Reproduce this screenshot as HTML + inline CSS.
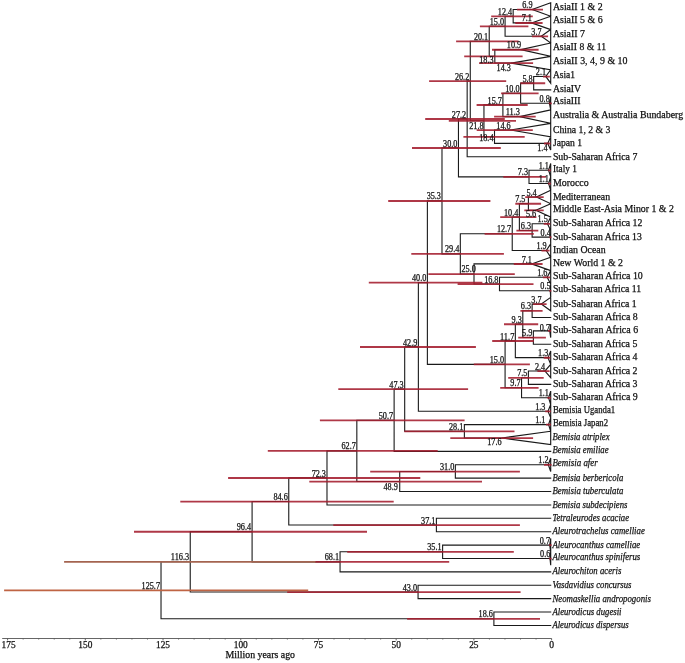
<!DOCTYPE html>
<html><head><meta charset="utf-8"><title>Phylogeny</title>
<style>
html,body{margin:0;padding:0;background:#fff}
svg{display:block}
text{font-family:"Liberation Serif",serif;fill:#111;stroke:#111;stroke-width:0.25px}
.n{font-size:9.6px}
.t{font-size:9.8px}
.i{font-style:italic;font-size:10.6px}
.a{font-size:9.5px}
.m{font-size:9.4px}
</style></head><body>
<svg width="685" height="663" viewBox="0 0 685 663">
<rect width="685" height="663" fill="#fff"/>
<path d="M513.16 9.5L513.16 22.89M513.16 9.5L532.19 9.5M513.16 22.89L531.62 22.89M505.08 16.2L505.08 36.28M505.08 16.2L513.16 16.2M505.08 36.28L541.24 36.28M494.82 49.67L494.82 63.06M494.82 49.67L520.87 49.67M494.82 63.06L511.26 63.06M489.23 26.24L489.23 56.37M489.23 26.24L505.08 26.24M489.23 56.37L494.82 56.37M533.67 76.45L533.67 89.84M533.67 76.45L545.76 76.45M533.67 89.84L550.7 89.84M520.62 83.15L520.62 103.23M520.62 83.15L533.67 83.15M520.62 103.23L549.44 103.23M502.9 93.19L502.9 116.62M502.9 93.19L520.62 93.19M502.9 116.62L519.74 116.62M494.51 130.01L494.51 143.4M494.51 130.01L510.41 130.01M494.51 143.4L547.74 143.4M483.95 104.9L483.95 136.7M483.95 104.9L502.9 104.9M483.95 136.7L494.51 136.7M470.27 41.3L470.27 120.8M470.27 41.3L489.23 41.3M470.27 120.8L483.95 120.8M467.16 81.05L467.16 156.79M467.16 81.05L470.27 81.05M467.16 156.79L550.7 156.79M529.01 170.18L529.01 183.57M529.01 170.18L548.59 170.18M529.01 183.57L548.59 183.57M458.46 118.92L458.46 176.88M458.46 118.92L467.16 118.92M458.46 176.88L529.01 176.88M528.39 196.96L528.39 210.35M528.39 196.96L536.43 196.96M528.39 210.35L535.86 210.35M532.12 223.74L532.12 237.13M532.12 223.74L547.46 223.74M532.12 237.13L550.57 237.13M519.38 203.66L519.38 230.44M519.38 203.66L528.39 203.66M519.38 230.44L532.12 230.44M512.23 217.05L512.23 250.52M512.23 217.05L519.38 217.05M512.23 250.52L546.33 250.52M499.49 277.3L499.49 290.69M499.49 277.3L547.18 277.3M499.49 290.69L550.29 290.69M474 263.91L474 284M474 263.91L531.62 263.91M474 284L499.49 284M460.32 233.78L460.32 273.95M460.32 233.78L512.23 233.78M460.32 273.95L474 273.95M441.99 147.9L441.99 253.87M441.99 147.9L458.46 147.9M441.99 253.87L460.32 253.87M532.12 304.08L532.12 317.47M532.12 304.08L541.24 304.08M532.12 317.47L550.7 317.47M533.36 330.86L533.36 344.25M533.36 330.86L549.72 330.86M533.36 344.25L550.7 344.25M522.8 310.78L522.8 337.56M522.8 310.78L532.12 310.78M522.8 337.56L533.36 337.56M515.34 324.17L515.34 357.64M515.34 324.17L522.8 324.17M515.34 357.64L548.02 357.64M528.39 371.03L528.39 384.42M528.39 371.03L544.91 371.03M528.39 384.42L550.7 384.42M521.55 377.73L521.55 397.81M521.55 377.73L528.39 377.73M521.55 397.81L548.59 397.81M505.08 340.9L505.08 387.77M505.08 340.9L515.34 340.9M505.08 387.77L521.55 387.77M427.38 200.88L427.38 364.34M427.38 200.88L441.99 200.88M427.38 364.34L505.08 364.34M418.37 282.61L418.37 411.2M418.37 282.61L427.38 282.61M418.37 411.2L548.02 411.2M464.37 424.59L464.37 437.98M464.37 424.59L548.59 424.59M464.37 437.98L501.93 437.98M404.69 346.9L404.69 431.29M404.69 346.9L418.37 346.9M404.69 431.29L464.37 431.29M394.12 389.09L394.12 451.37M394.12 389.09L404.69 389.09M394.12 451.37L550.7 451.37M455.35 464.76L455.35 478.15M455.35 464.76L548.31 464.76M455.35 478.15L550.7 478.15M399.72 471.46L399.72 491.54M399.72 471.46L455.35 471.46M399.72 491.54L550.7 491.54M356.83 420.23L356.83 481.5M356.83 420.23L394.12 420.23M356.83 481.5L399.72 481.5M326.99 450.86L326.99 504.93M326.99 450.86L356.83 450.86M326.99 504.93L550.7 504.93M436.39 518.32L436.39 531.71M436.39 518.32L550.7 518.32M436.39 531.71L550.7 531.71M288.76 477.9L288.76 525.02M288.76 477.9L326.99 477.9M288.76 525.02L436.39 525.02M442.61 545.1L442.61 558.49M442.61 545.1L549.72 545.1M442.61 558.49L550 558.49M340.05 551.8L340.05 571.88M340.05 551.8L442.61 551.8M340.05 571.88L550.7 571.88M252.09 501.46L252.09 561.84M252.09 501.46L288.76 501.46M252.09 561.84L340.05 561.84M418.06 585.27L418.06 598.66M418.06 585.27L550.7 585.27M418.06 598.66L550.7 598.66M190.24 531.65L190.24 591.97M190.24 531.65L252.09 531.65M190.24 591.97L418.06 591.97M493.89 612.05L493.89 625.44M493.89 612.05L550.7 612.05M493.89 625.44L550.7 625.44M161.02 561.81L161.02 618.75M161.02 561.81L190.24 561.81M161.02 618.75L493.89 618.75" fill="none" stroke="#1a1a1a" stroke-width="1.1" stroke-linecap="square"/>
<path d="M550.7 2.8L532.19 9.5L550.7 16.2ZM550.7 16.2L531.62 22.89L550.7 29.59ZM550.7 29.59L541.24 36.28L550.7 42.98ZM550.7 42.98L520.87 49.67L550.7 56.37ZM550.7 56.37L511.26 63.06L550.7 69.75ZM550.7 69.75L545.76 76.45L550.7 83.15ZM550.7 96.53L549.44 103.23L550.7 109.93ZM550.7 109.93L519.74 116.62L550.7 123.31ZM550.7 123.31L510.41 130.01L550.7 136.7ZM550.7 136.71L547.74 143.4L550.7 150.09ZM550.7 163.49L548.59 170.18L550.7 176.88ZM550.7 176.88L548.59 183.57L550.7 190.26ZM550.7 190.27L536.43 196.96L550.7 203.66ZM550.7 203.66L535.86 210.35L550.7 217.05ZM550.7 217.05L547.46 223.74L550.7 230.44ZM550.7 230.44L550.57 237.13L550.7 243.82ZM550.7 243.83L546.33 250.52L550.7 257.22ZM550.7 257.22L531.62 263.91L550.7 270.61ZM550.7 270.61L547.18 277.3L550.7 284ZM550.7 284L550.29 290.69L550.7 297.38ZM550.7 297.39L541.24 304.08L550.7 310.78ZM550.7 324.17L549.72 330.86L550.7 337.56ZM550.7 350.94L548.02 357.64L550.7 364.33ZM550.7 364.34L544.91 371.03L550.7 377.73ZM550.7 391.12L548.59 397.81L550.7 404.5ZM550.7 404.51L548.02 411.2L550.7 417.9ZM550.7 417.9L548.59 424.59L550.7 431.29ZM550.7 431.29L501.93 437.98L550.7 444.68ZM550.7 458.06L548.31 464.76L550.7 471.45ZM550.7 538.4L549.72 545.1L550.7 551.8ZM550.7 551.79L550 558.49L550.7 565.19Z" fill="none" stroke="#1a1a1a" stroke-width="1.15" stroke-linejoin="miter"/>
<path d="M491.2 16.3H532.8M479.9 26.34H528.4M464.2 56.47H522.6M456.1 41.4H518.6M520.4 83.25H545.2M501.1 93.29H538.6M476.6 105H527.7M463.4 136.8H524.7M448.8 120.9H516M429.1 81.15H506.2M425.2 119.02H504.8M503.3 176.97H545.9M412 148H500.8M515.3 203.76H541.1M516.4 230.53H538.3M500.2 217.15H536.4M484.6 233.88H533.8M457.6 284.1H533.5M428.4 274.05H514.8M411.3 253.97H503.9M388.2 200.98H490.4M520.4 310.88H542.6M518.2 337.66H545.9M504 324.27H538.2M492.2 341H533.8M508.2 377.83H543.7M500.2 387.87H538.6M473.8 364.44H529.9M368.8 282.71H482.4M360 347H475.9M404.3 431.39H514.5M338.3 389.19H468.1M319.9 420.33H464.6M370.2 471.56H519.9M309.3 481.6H482M267.8 450.96H437.7M228.1 478H420.3M333.3 525.12H519.9M180.3 501.56H393.7M347.2 551.9H513.8M315 561.94H449.2M134 531.75H367M287.2 592.07H520.6M407.1 618.85H540M517 9.6H543M515.3 22.99H542.6M532 36.38H548.1M492 49.77H538.6M479.1 63.16H533.1M543 76.55H549.9M548.8 103.33H551.8M494.1 116.72H535.7M476.7 130.11H532.8M544 143.5H550.7M548.1 170.28H550.9M548.1 183.67H550.9M525.2 197.06H543.7M524.3 210.45H543.7M543.7 223.84H550.3M549.5 237.23H551.3M541.5 250.62H549.6M513.8 264.01H542.6M543 277.4H550M549.3 290.79H551.3M533.1 304.18H546.6M548 330.96H551M543.7 357.74H550.3M537.4 371.13H549.6M547.4 397.91H550.9M545.2 411.3H551M546 424.69H551M450.3 438.08H533.1M544 464.86H551.6M549.1 545.2H551.6M549.1 558.59H551.6" fill="none" stroke="#a41c2d" stroke-opacity="0.88" stroke-width="1.8"/>
<path d="M64.1 561.91H315.5" fill="none" stroke="#a46450" stroke-opacity="1" stroke-width="1.9"/>
<path d="M4.1 590.38H308.2" fill="none" stroke="#bf6444" stroke-opacity="1" stroke-width="1.9"/>
<path d="M2.2 638.5H551.7M551.6 638.5v1.9M536.06 638.5v1.0M520.51 638.5v1.0M504.97 638.5v1.0M489.43 638.5v1.0M473.88 638.5v1.9M458.34 638.5v1.0M442.8 638.5v1.0M427.26 638.5v1.0M411.71 638.5v1.0M396.17 638.5v1.9M380.63 638.5v1.0M365.08 638.5v1.0M349.54 638.5v1.0M334 638.5v1.0M318.46 638.5v1.9M302.91 638.5v1.0M287.37 638.5v1.0M271.83 638.5v1.0M256.28 638.5v1.0M240.74 638.5v1.9M225.2 638.5v1.0M209.65 638.5v1.0M194.11 638.5v1.0M178.57 638.5v1.0M163.03 638.5v1.9M147.48 638.5v1.0M131.94 638.5v1.0M116.4 638.5v1.0M100.85 638.5v1.0M85.31 638.5v1.9M69.77 638.5v1.0M54.22 638.5v1.0M38.68 638.5v1.0M23.14 638.5v1.0M7.6 638.5v1.9" fill="none" stroke="#555" stroke-width="0.9"/>
<text x="497.81" y="14.79" class="n" textLength="14.35" lengthAdjust="spacingAndGlyphs">12.4</text>
<text x="489.73" y="24.84" class="n" textLength="14.35" lengthAdjust="spacingAndGlyphs">15.0</text>
<text x="479.25" y="62.8" class="n" textLength="14.35" lengthAdjust="spacingAndGlyphs">18.3</text>
<text x="473.88" y="39.9" class="n" textLength="14.35" lengthAdjust="spacingAndGlyphs">20.1</text>
<text x="522.42" y="81.75" class="n" textLength="10.25" lengthAdjust="spacingAndGlyphs">5.8</text>
<text x="505.27" y="91.79" class="n" textLength="14.35" lengthAdjust="spacingAndGlyphs">10.0</text>
<text x="487.55" y="103.5" class="n" textLength="14.35" lengthAdjust="spacingAndGlyphs">15.7</text>
<text x="479.15" y="140.5" class="n" textLength="14.35" lengthAdjust="spacingAndGlyphs">18.4</text>
<text x="469.25" y="128.6" class="n" textLength="14.35" lengthAdjust="spacingAndGlyphs">21.8</text>
<text x="454.92" y="79.65" class="n" textLength="14.35" lengthAdjust="spacingAndGlyphs">26.2</text>
<text x="451.81" y="117.52" class="n" textLength="14.35" lengthAdjust="spacingAndGlyphs">27.2</text>
<text x="517.76" y="175.47" class="n" textLength="10.25" lengthAdjust="spacingAndGlyphs">7.3</text>
<text x="443.11" y="146.5" class="n" textLength="14.35" lengthAdjust="spacingAndGlyphs">30.0</text>
<text x="515.15" y="202.26" class="n" textLength="10.25" lengthAdjust="spacingAndGlyphs">7.5</text>
<text x="520.87" y="229.03" class="n" textLength="10.25" lengthAdjust="spacingAndGlyphs">6.3</text>
<text x="504.03" y="215.65" class="n" textLength="14.35" lengthAdjust="spacingAndGlyphs">10.4</text>
<text x="496.88" y="232.38" class="n" textLength="14.35" lengthAdjust="spacingAndGlyphs">12.7</text>
<text x="484.14" y="282.8" class="n" textLength="14.35" lengthAdjust="spacingAndGlyphs">16.8</text>
<text x="461.45" y="272" class="n" textLength="14.35" lengthAdjust="spacingAndGlyphs">25.0</text>
<text x="444.97" y="252.47" class="n" textLength="14.35" lengthAdjust="spacingAndGlyphs">29.4</text>
<text x="426.64" y="199.48" class="n" textLength="14.35" lengthAdjust="spacingAndGlyphs">35.3</text>
<text x="520.87" y="309.38" class="n" textLength="10.25" lengthAdjust="spacingAndGlyphs">6.3</text>
<text x="522.11" y="335.6" class="n" textLength="10.25" lengthAdjust="spacingAndGlyphs">5.9</text>
<text x="511.55" y="322.77" class="n" textLength="10.25" lengthAdjust="spacingAndGlyphs">9.3</text>
<text x="499.99" y="339.5" class="n" textLength="14.35" lengthAdjust="spacingAndGlyphs">11.7</text>
<text x="517.14" y="376.33" class="n" textLength="10.25" lengthAdjust="spacingAndGlyphs">7.5</text>
<text x="510.3" y="386.37" class="n" textLength="10.25" lengthAdjust="spacingAndGlyphs">9.7</text>
<text x="489.73" y="362.94" class="n" textLength="14.35" lengthAdjust="spacingAndGlyphs">15.0</text>
<text x="412.03" y="281.21" class="n" textLength="14.35" lengthAdjust="spacingAndGlyphs">40.0</text>
<text x="403.02" y="345.5" class="n" textLength="14.35" lengthAdjust="spacingAndGlyphs">42.9</text>
<text x="449.02" y="429.89" class="n" textLength="14.35" lengthAdjust="spacingAndGlyphs">28.1</text>
<text x="389.34" y="387.69" class="n" textLength="14.35" lengthAdjust="spacingAndGlyphs">47.3</text>
<text x="378.77" y="418.83" class="n" textLength="14.35" lengthAdjust="spacingAndGlyphs">50.7</text>
<text x="440" y="470.06" class="n" textLength="14.35" lengthAdjust="spacingAndGlyphs">31.0</text>
<text x="383.45" y="490.2" class="n" textLength="14.35" lengthAdjust="spacingAndGlyphs">48.9</text>
<text x="341.48" y="449.46" class="n" textLength="14.35" lengthAdjust="spacingAndGlyphs">62.7</text>
<text x="311.64" y="476.5" class="n" textLength="14.35" lengthAdjust="spacingAndGlyphs">72.3</text>
<text x="421.04" y="523.62" class="n" textLength="14.35" lengthAdjust="spacingAndGlyphs">37.1</text>
<text x="273.41" y="500.06" class="n" textLength="14.35" lengthAdjust="spacingAndGlyphs">84.6</text>
<text x="427.26" y="550.4" class="n" textLength="14.35" lengthAdjust="spacingAndGlyphs">35.1</text>
<text x="324.7" y="560.44" class="n" textLength="14.35" lengthAdjust="spacingAndGlyphs">68.1</text>
<text x="236.74" y="530.25" class="n" textLength="14.35" lengthAdjust="spacingAndGlyphs">96.4</text>
<text x="402.71" y="590.57" class="n" textLength="14.35" lengthAdjust="spacingAndGlyphs">43.0</text>
<text x="170.79" y="560.41" class="n" textLength="18.45" lengthAdjust="spacingAndGlyphs">116.3</text>
<text x="478.54" y="617.35" class="n" textLength="14.35" lengthAdjust="spacingAndGlyphs">18.6</text>
<text x="141.57" y="588.88" class="n" textLength="18.45" lengthAdjust="spacingAndGlyphs">125.7</text>
<text x="522.24" y="8.1" class="n" textLength="10.25" lengthAdjust="spacingAndGlyphs">6.9</text>
<text x="521.67" y="21.49" class="n" textLength="10.25" lengthAdjust="spacingAndGlyphs">7.1</text>
<text x="531.29" y="34.88" class="n" textLength="10.25" lengthAdjust="spacingAndGlyphs">3.7</text>
<text x="506.82" y="48.27" class="n" textLength="14.35" lengthAdjust="spacingAndGlyphs">10.9</text>
<text x="496.55" y="70.8" class="n" textLength="14.35" lengthAdjust="spacingAndGlyphs">14.3</text>
<text x="535.81" y="75.05" class="n" textLength="10.25" lengthAdjust="spacingAndGlyphs">2.1</text>
<text x="539.49" y="101.83" class="n" textLength="10.25" lengthAdjust="spacingAndGlyphs">0.8</text>
<text x="505.69" y="115.22" class="n" textLength="14.35" lengthAdjust="spacingAndGlyphs">11.3</text>
<text x="496.36" y="128.61" class="n" textLength="14.35" lengthAdjust="spacingAndGlyphs">14.6</text>
<text x="537.25" y="150.6" class="n" textLength="10.25" lengthAdjust="spacingAndGlyphs">1.4</text>
<text x="538.64" y="168.78" class="n" textLength="10.25" lengthAdjust="spacingAndGlyphs">1.1</text>
<text x="538.64" y="182.17" class="n" textLength="10.25" lengthAdjust="spacingAndGlyphs">1.1</text>
<text x="526.48" y="195.56" class="n" textLength="10.25" lengthAdjust="spacingAndGlyphs">5.4</text>
<text x="525.91" y="216.5" class="n" textLength="10.25" lengthAdjust="spacingAndGlyphs">5.6</text>
<text x="537.51" y="222.34" class="n" textLength="10.25" lengthAdjust="spacingAndGlyphs">1.5</text>
<text x="540.62" y="235.73" class="n" textLength="10.25" lengthAdjust="spacingAndGlyphs">0.4</text>
<text x="536.38" y="249.12" class="n" textLength="10.25" lengthAdjust="spacingAndGlyphs">1.9</text>
<text x="521.67" y="262.51" class="n" textLength="10.25" lengthAdjust="spacingAndGlyphs">7.1</text>
<text x="537.23" y="275.9" class="n" textLength="10.25" lengthAdjust="spacingAndGlyphs">1.6</text>
<text x="540.34" y="289.29" class="n" textLength="10.25" lengthAdjust="spacingAndGlyphs">0.5</text>
<text x="531.29" y="302.68" class="n" textLength="10.25" lengthAdjust="spacingAndGlyphs">3.7</text>
<text x="539.77" y="331" class="n" textLength="10.25" lengthAdjust="spacingAndGlyphs">0.7</text>
<text x="538.07" y="356.24" class="n" textLength="10.25" lengthAdjust="spacingAndGlyphs">1.3</text>
<text x="534.96" y="369.63" class="n" textLength="10.25" lengthAdjust="spacingAndGlyphs">2.4</text>
<text x="538.64" y="396.41" class="n" textLength="10.25" lengthAdjust="spacingAndGlyphs">1.1</text>
<text x="535.15" y="409.8" class="n" textLength="10.25" lengthAdjust="spacingAndGlyphs">1.3</text>
<text x="535.15" y="423.19" class="n" textLength="10.25" lengthAdjust="spacingAndGlyphs">1.1</text>
<text x="487.25" y="445.4" class="n" textLength="14.35" lengthAdjust="spacingAndGlyphs">17.6</text>
<text x="538.36" y="463.36" class="n" textLength="10.25" lengthAdjust="spacingAndGlyphs">1.2</text>
<text x="539.77" y="543.7" class="n" textLength="10.25" lengthAdjust="spacingAndGlyphs">0.7</text>
<text x="540.05" y="557.09" class="n" textLength="10.25" lengthAdjust="spacingAndGlyphs">0.6</text>
<text x="552.9" y="9.9" class="t" textLength="49.7" lengthAdjust="spacingAndGlyphs">AsiaII 1 &amp; 2</text>
<text x="552.9" y="23.4" class="t" textLength="49.7" lengthAdjust="spacingAndGlyphs">AsiaII 5 &amp; 6</text>
<text x="552.9" y="37.2" class="t" textLength="32.1" lengthAdjust="spacingAndGlyphs">AsiaII 7</text>
<text x="552.9" y="50.2" class="t" textLength="53.1" lengthAdjust="spacingAndGlyphs">AsiaII 8 &amp; 11</text>
<text x="552.9" y="63.8" class="t" textLength="74.6" lengthAdjust="spacingAndGlyphs">AsiaII 3, 4, 9 &amp; 10</text>
<text x="552.9" y="78.2" class="t" textLength="22.1" lengthAdjust="spacingAndGlyphs">Asia1</text>
<text x="552.9" y="91.8" class="t" textLength="28.2" lengthAdjust="spacingAndGlyphs">AsiaIV</text>
<text x="552.9" y="103.9" class="t" textLength="27.6" lengthAdjust="spacingAndGlyphs">AsiaIII</text>
<text x="552.9" y="118.2" class="t" textLength="130.2" lengthAdjust="spacingAndGlyphs">Australia &amp; Australia Bundaberg</text>
<text x="552.9" y="132.6" class="t" textLength="57.6" lengthAdjust="spacingAndGlyphs">China 1, 2 &amp; 3</text>
<text x="552.9" y="146.3" class="t" textLength="29.2" lengthAdjust="spacingAndGlyphs">Japan 1</text>
<text x="552.9" y="159.7" class="t" textLength="84.4" lengthAdjust="spacingAndGlyphs">Sub-Saharan Africa 7</text>
<text x="552.9" y="172.4" class="t" textLength="24.1" lengthAdjust="spacingAndGlyphs">Italy 1</text>
<text x="552.9" y="186.4" class="t" textLength="35.8" lengthAdjust="spacingAndGlyphs">Morocco</text>
<text x="552.9" y="200.1" class="t" textLength="57.2" lengthAdjust="spacingAndGlyphs">Mediterranean</text>
<text x="552.9" y="212.4" class="t" textLength="121" lengthAdjust="spacingAndGlyphs">Middle East-Asia Minor 1 &amp; 2</text>
<text x="552.9" y="226.3" class="t" textLength="89.5" lengthAdjust="spacingAndGlyphs">Sub-Saharan Africa 12</text>
<text x="552.9" y="239.6" class="t" textLength="88.9" lengthAdjust="spacingAndGlyphs">Sub-Saharan Africa 13</text>
<text x="552.9" y="252.8" class="t" textLength="52.7" lengthAdjust="spacingAndGlyphs">Indian Ocean</text>
<text x="552.9" y="265.9" class="t" textLength="70.1" lengthAdjust="spacingAndGlyphs">New World 1 &amp; 2</text>
<text x="552.9" y="279.4" class="t" textLength="89.9" lengthAdjust="spacingAndGlyphs">Sub-Saharan Africa 10</text>
<text x="552.9" y="292.3" class="t" textLength="88.3" lengthAdjust="spacingAndGlyphs">Sub-Saharan Africa 11</text>
<text x="552.9" y="306.6" class="t" textLength="83.8" lengthAdjust="spacingAndGlyphs">Sub-Saharan Africa 1</text>
<text x="552.9" y="320.3" class="t" textLength="84.8" lengthAdjust="spacingAndGlyphs">Sub-Saharan Africa 8</text>
<text x="552.9" y="332.6" class="t" textLength="85.2" lengthAdjust="spacingAndGlyphs">Sub-Saharan Africa 6</text>
<text x="552.9" y="346.5" class="t" textLength="84.4" lengthAdjust="spacingAndGlyphs">Sub-Saharan Africa 5</text>
<text x="552.9" y="360.2" class="t" textLength="84.6" lengthAdjust="spacingAndGlyphs">Sub-Saharan Africa 4</text>
<text x="552.9" y="374" class="t" textLength="84.6" lengthAdjust="spacingAndGlyphs">Sub-Saharan Africa 2</text>
<text x="552.9" y="387.3" class="t" textLength="84.6" lengthAdjust="spacingAndGlyphs">Sub-Saharan Africa 3</text>
<text x="552.9" y="399.7" class="t" textLength="84.8" lengthAdjust="spacingAndGlyphs">Sub-Saharan Africa 9</text>
<text x="552.9" y="412.8" class="t" textLength="62.3" lengthAdjust="spacingAndGlyphs">Bemisia Uganda1</text>
<text x="552.9" y="426" class="t" textLength="55.2" lengthAdjust="spacingAndGlyphs">Bemisia Japan2</text>
<text x="552.4" y="439.8" class="t i" textLength="57.2" lengthAdjust="spacingAndGlyphs">Bemisia atriplex</text>
<text x="552.4" y="453.4" class="t i" textLength="56.2" lengthAdjust="spacingAndGlyphs">Bemisia emiliae</text>
<text x="552.4" y="465.8" class="t i" textLength="45.4" lengthAdjust="spacingAndGlyphs">Bemisia afer</text>
<text x="552.4" y="480.5" class="t i" textLength="70.9" lengthAdjust="spacingAndGlyphs">Bemisia berbericola</text>
<text x="552.4" y="494.2" class="t i" textLength="70.9" lengthAdjust="spacingAndGlyphs">Bemisia tuberculata</text>
<text x="552.4" y="507.7" class="t i" textLength="75" lengthAdjust="spacingAndGlyphs">Bemisia subdecipiens</text>
<text x="552.4" y="521" class="t i" textLength="76.6" lengthAdjust="spacingAndGlyphs">Tetraleurodes acaciae</text>
<text x="552.4" y="534" class="t i" textLength="92.4" lengthAdjust="spacingAndGlyphs">Aleurotrachelus camelliae</text>
<text x="552.4" y="547.6" class="t i" textLength="87.9" lengthAdjust="spacingAndGlyphs">Aleurocanthus camelliae</text>
<text x="552.4" y="560.3" class="t i" textLength="87.9" lengthAdjust="spacingAndGlyphs">Aleurocanthus spiniferus</text>
<text x="552.4" y="574.2" class="t i" textLength="68.9" lengthAdjust="spacingAndGlyphs">Aleurochiton aceris</text>
<text x="552.4" y="588.2" class="t i" textLength="79.1" lengthAdjust="spacingAndGlyphs">Vasdavidius concursus</text>
<text x="552.4" y="601.5" class="t i" textLength="98.5" lengthAdjust="spacingAndGlyphs">Neomaskellia andropogonis</text>
<text x="552.4" y="614.8" class="t i" textLength="69.1" lengthAdjust="spacingAndGlyphs">Aleurodicus dugesii</text>
<text x="552.4" y="628.1" class="t i" textLength="76.2" lengthAdjust="spacingAndGlyphs">Aleurodicus dispersus</text>
<text x="551.6" y="647.6" text-anchor="middle" class="a" textLength="4.8" lengthAdjust="spacingAndGlyphs">0</text>
<text x="473.88" y="647.6" text-anchor="middle" class="a" textLength="9.4" lengthAdjust="spacingAndGlyphs">25</text>
<text x="396.17" y="647.6" text-anchor="middle" class="a" textLength="9.4" lengthAdjust="spacingAndGlyphs">50</text>
<text x="318.46" y="647.6" text-anchor="middle" class="a" textLength="9.4" lengthAdjust="spacingAndGlyphs">75</text>
<text x="240.74" y="647.6" text-anchor="middle" class="a" textLength="14.0" lengthAdjust="spacingAndGlyphs">100</text>
<text x="163.03" y="647.6" text-anchor="middle" class="a" textLength="14.0" lengthAdjust="spacingAndGlyphs">125</text>
<text x="85.31" y="647.6" text-anchor="middle" class="a" textLength="14.0" lengthAdjust="spacingAndGlyphs">150</text>
<text x="8.6" y="647.6" text-anchor="middle" class="a" textLength="14.0" lengthAdjust="spacingAndGlyphs">175</text>
<text x="260.3" y="657.7" text-anchor="middle" class="m" textLength="69.5" lengthAdjust="spacingAndGlyphs">Million years ago</text>
</svg></body></html>
